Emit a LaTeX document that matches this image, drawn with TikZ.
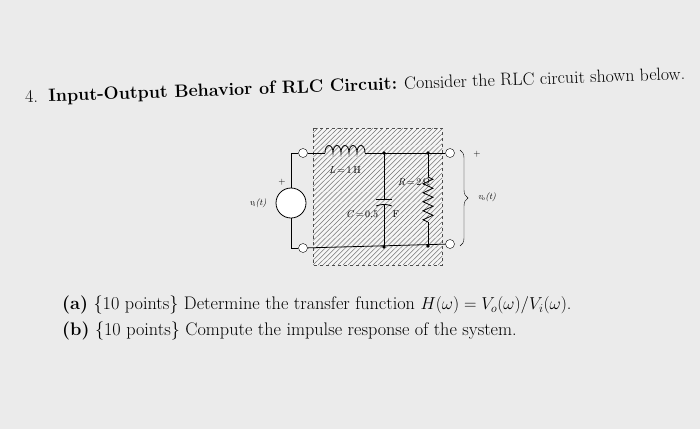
\documentclass[tikz,border=0pt]{standalone}
\usetikzlibrary{decorations.pathmorphing,decorations.pathreplacing}
\begin{document}
\begin{tikzpicture}[x=1pt,y=-1pt,
  term/.style={circle,draw,fill=white,inner sep=0pt,minimum size=9pt},
  wire/.style={line width=0.8pt},
  lbl/.style={inner sep=0pt,font=\small\itshape}]
\fill[black!8] (0,0) rectangle (700,429);
\useasboundingbox (0,0) rectangle (700,429);
% box
\begin{scope}
\clip (313,128) rectangle (442,265);
\fill[black!4] (313,128) rectangle (442,265);
\foreach \k in {0,5,...,280} {\draw[black!55,line width=0.5pt] (313+\k-140,265) -- (313+\k,128);}
\end{scope}
\draw[dashed,black!70] (313,128) rectangle (442,265);
% nodes
\node[term] (t1) at (303,153) {};
\node[term] (t2) at (303,248) {};
\node[term] (t3) at (450,153) {};
\node[term] (t4) at (450,244) {};
\node[circle,draw,wire,fill=white,minimum size=30pt,inner sep=0pt] (src) at (291,203) {};
\coordinate (lt) at (291,153); \coordinate (lb) at (291,248);
\coordinate (i1) at (325,153); \coordinate (i2) at (365,153);
\coordinate (ct) at (384,153); \coordinate (cb) at (384,247);
\coordinate (c1) at (384,199); \coordinate (c2) at (384,205);
\coordinate (rt) at (428,153); \coordinate (rb) at (428,246);
\coordinate (r1) at (428,177); \coordinate (r2) at (428,222);
\draw[wire] (t1) -- (lt) -- (src.north);
\draw[wire] (src.south) -- (lb) -- (t2);
\draw[wire] (t1) -- (i1);
\draw[wire] (i1) .. controls (325,143) and (333,143) .. (333,153)
  .. controls (333,143) and (341,143) .. (341,153)
  .. controls (341,143) and (349,143) .. (349,153)
  .. controls (349,143) and (357,143) .. (357,153)
  .. controls (357,143) and (365,143) .. (i2);
\draw[wire] (i2) -- (t3);
\draw[wire] (t2) -- (t4);
\draw[wire] (ct) -- (c1); \draw[wire] (c2) -- (cb);
\draw[wire] (376,199) -- (392,199);
\draw[wire] (376,206) to[bend left=20] (392,206);
\draw[wire] (rt) -- (r1);
\draw[wire,decorate,decoration={zigzag,segment length=9pt,amplitude=5pt}] (r1) -- (r2);
\draw[wire] (r2) -- (rb);
\fill (ct) circle (1.8); \fill (cb) circle (1.8); \fill (rt) circle (1.8); \fill (rb) circle (1.8);
\draw[decorate,decoration={brace,amplitude=8pt}] (460,150) -- (460,246) coordinate[midway] (bm);
% labels
\node[lbl] (lvi) at (258,203) {v\textsubscript{\!i}(t)};
\node[lbl] (pl) at (282,182) {\upshape +};
\node[lbl] (pr) at (477,154) {\upshape +};
\node[lbl] (lvo) at (487,197) {v\textsubscript{\!o}(t)};
\node[lbl,font=\normalsize] (lL) at (345,170) {\textit{L}\,=\,1\,H};
\node[lbl,font=\normalsize] (lR) at (414,182) {\textit{R}\,=\,2\,$\Omega$};
\node[lbl,font=\normalsize] (lC) at (362,214) {\textit{C}\,=\,0.5};
\node[lbl,font=\normalsize] (lF) at (396,214) {F};
% text
\node[anchor=west,inner sep=0pt,rotate=2,font=\fontsize{17.8}{21}\selectfont] (title) at (25,98)
  {4.\ \ \textbf{Input-Output Behavior of RLC Circuit:} Consider the RLC circuit shown below.};
\node[anchor=west,inner sep=0pt,font=\fontsize{18.2}{21}\selectfont] (qa) at (62,305)
  {\textbf{(a)} \{10 points\} Determine the transfer function $H(\omega)=V_o(\omega)/V_i(\omega)$.};
\node[anchor=west,inner sep=0pt,font=\fontsize{18.2}{21}\selectfont] (qb) at (62,331)
  {\textbf{(b)} \{10 points\} Compute the impulse response of the system.};
\end{tikzpicture}
\end{document}
